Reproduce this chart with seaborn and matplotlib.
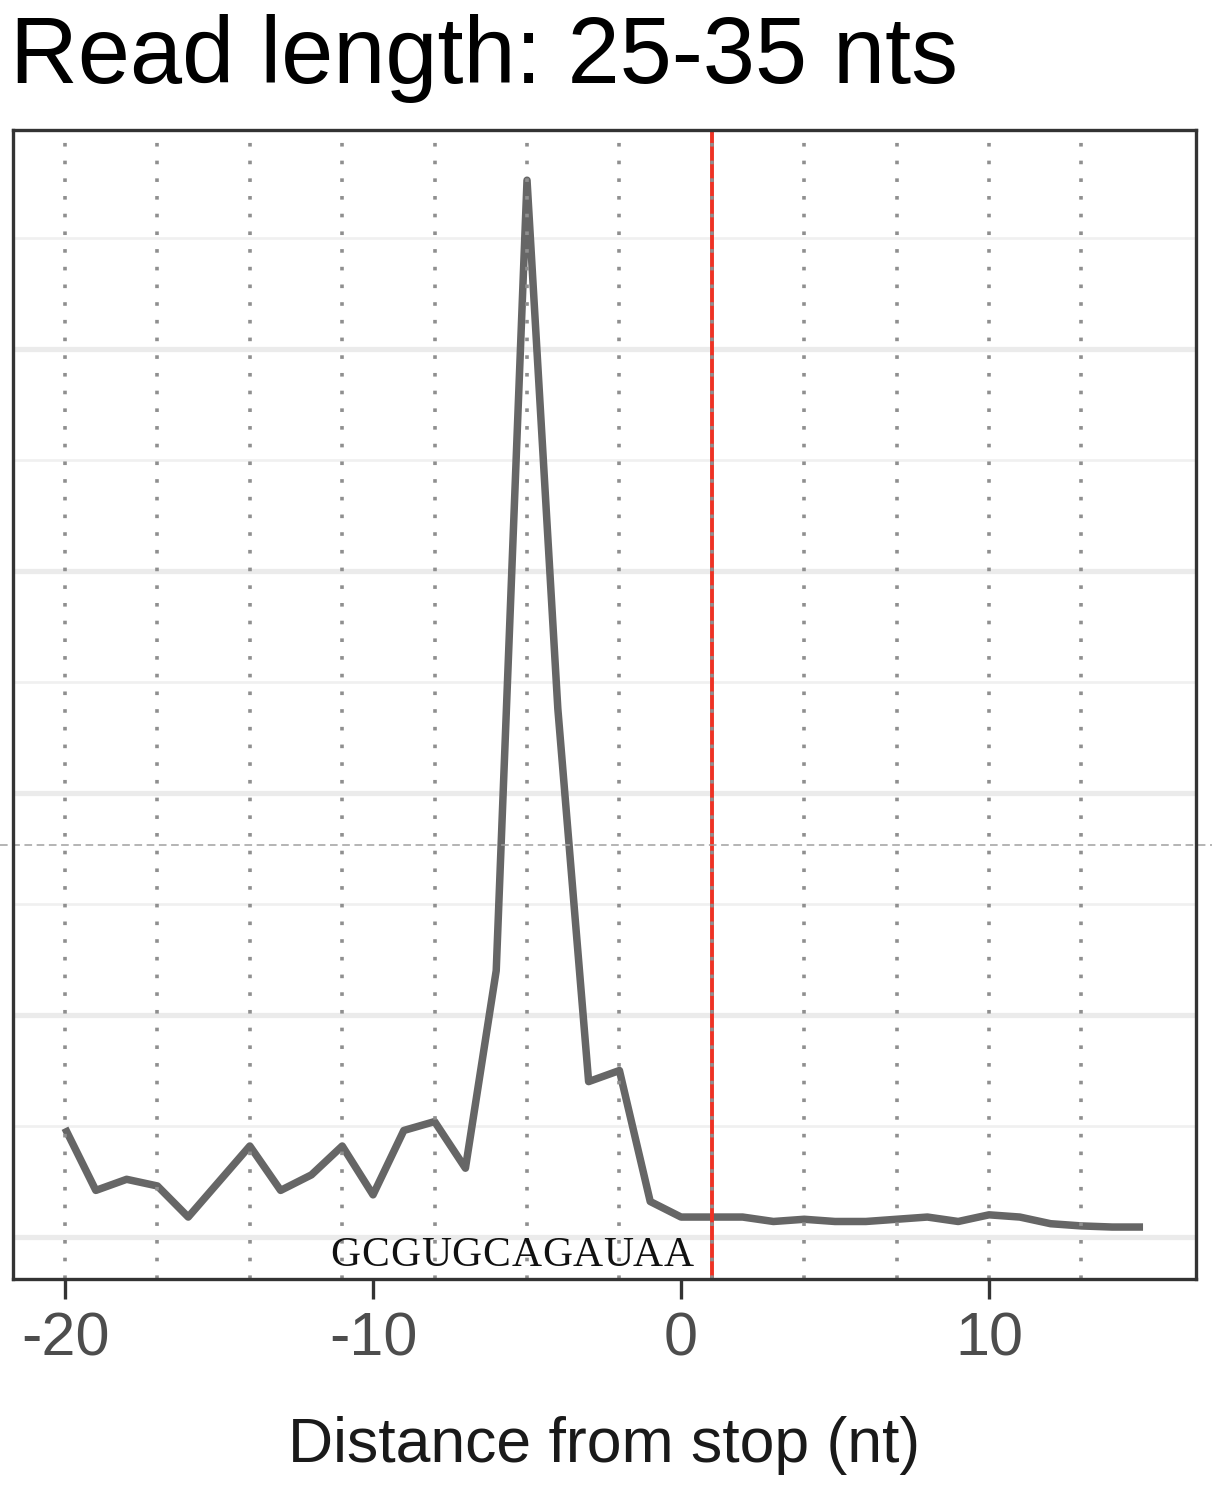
import matplotlib

matplotlib.use("Agg")

import matplotlib.pyplot as plt
import matplotlib.transforms as mtransforms
import pandas as pd
import seaborn as sns

# positions relative to the stop codon
positions = list(range(-20, 16))
# normalised read density
density = [
    0.49, 0.21, 0.26, 0.23, 0.09, 0.25, 0.41, 0.21, 0.28, 0.41,
    0.19, 0.48, 0.52, 0.31, 1.20, 4.76, 2.38, 0.70, 0.75, 0.16,
    0.09, 0.09, 0.09, 0.07, 0.08, 0.07, 0.07, 0.08, 0.09, 0.07,
    0.10, 0.09, 0.06, 0.05, 0.045, 0.045,
]
x_ticks = [-20, -10, 0, 10]
codon_lines = list(range(-20, 16, 3))
major_grid = [0, 1, 2, 3, 4]
minor_grid = [0.5, 1.5, 2.5, 3.5, 4.5]
stop_pos = 1
threshold = 1.766
sequence = "GCGUGCAGAUAA"

sns.set_theme(style="white")
plt.rcParams["font.family"] = ["Liberation Sans", "DejaVu Sans"]
plt.rcParams["axes.unicode_minus"] = False

df = pd.DataFrame({"pos": positions, "density": density})

fig = plt.figure(figsize=(12.12, 14.98), dpi=100)
ax = fig.add_axes([0.0107, 0.1462, 0.9761, 0.767])

for y in minor_grid:
    ax.axhline(y, color="#f0f0f0", lw=1.9, zorder=0)
for y in major_grid:
    ax.axhline(y, color="#ebebeb", lw=3.8, zorder=0)

sns.lineplot(data=df, x="pos", y="density", ax=ax, color="#666666", lw=5.4,
             solid_joinstyle="round", solid_capstyle="butt", zorder=3)

ax.axvline(stop_pos, color="#ee3224", lw=2.8, zorder=4)
for xv in codon_lines:
    ax.axvline(xv, color="#8f8f8f", lw=2.6, linestyle=(0, (1, 3.9)), zorder=5)

# dashed threshold line running across the whole figure width
trans = mtransforms.blended_transform_factory(fig.transFigure, ax.transData)
ax.plot([0, 1], [threshold, threshold], transform=trans, color="#a0a0a0",
        lw=1.1, linestyle=(0, (5, 3)), clip_on=False, zorder=6)

# sequence written with a fixed advance so it reads like a monospace serif face
advance_pt = 21.8
for i, ch in enumerate(reversed(sequence)):
    ax.annotate(ch, xy=(0.4, -0.13), xycoords="data",
                xytext=(-advance_pt * (i + 0.5), 0), textcoords="offset points",
                family="Liberation Serif", fontsize=30, ha="center", va="baseline",
                color="#111111", zorder=7)

ax.set_xlim(-21.69, 16.72)
ax.set_ylim(-0.189, 4.986)
ax.set_xticks(x_ticks)
ax.set_xticklabels([str(t) for t in x_ticks])
ax.set_yticks([])
ax.tick_params(axis="x", length=14.5, width=2.4, color="#333333", pad=9,
               labelsize=44, labelcolor="#4d4d4d", bottom=True)
ax.set_xlabel("Distance from stop (nt)", fontsize=45, color="#1a1a1a", labelpad=34)
ax.set_ylabel("")

for sp in ax.spines.values():
    sp.set_visible(True)
    sp.set_color("#333333")
    sp.set_linewidth(2.4)
    sp.set_zorder(8)

fig.text(0.008, 1 - 83 / 1498, "Read length: 25-35 nts", fontsize=67.5,
         ha="left", va="baseline", color="black")

fig.savefig("out.png", dpi=100, facecolor="white")
